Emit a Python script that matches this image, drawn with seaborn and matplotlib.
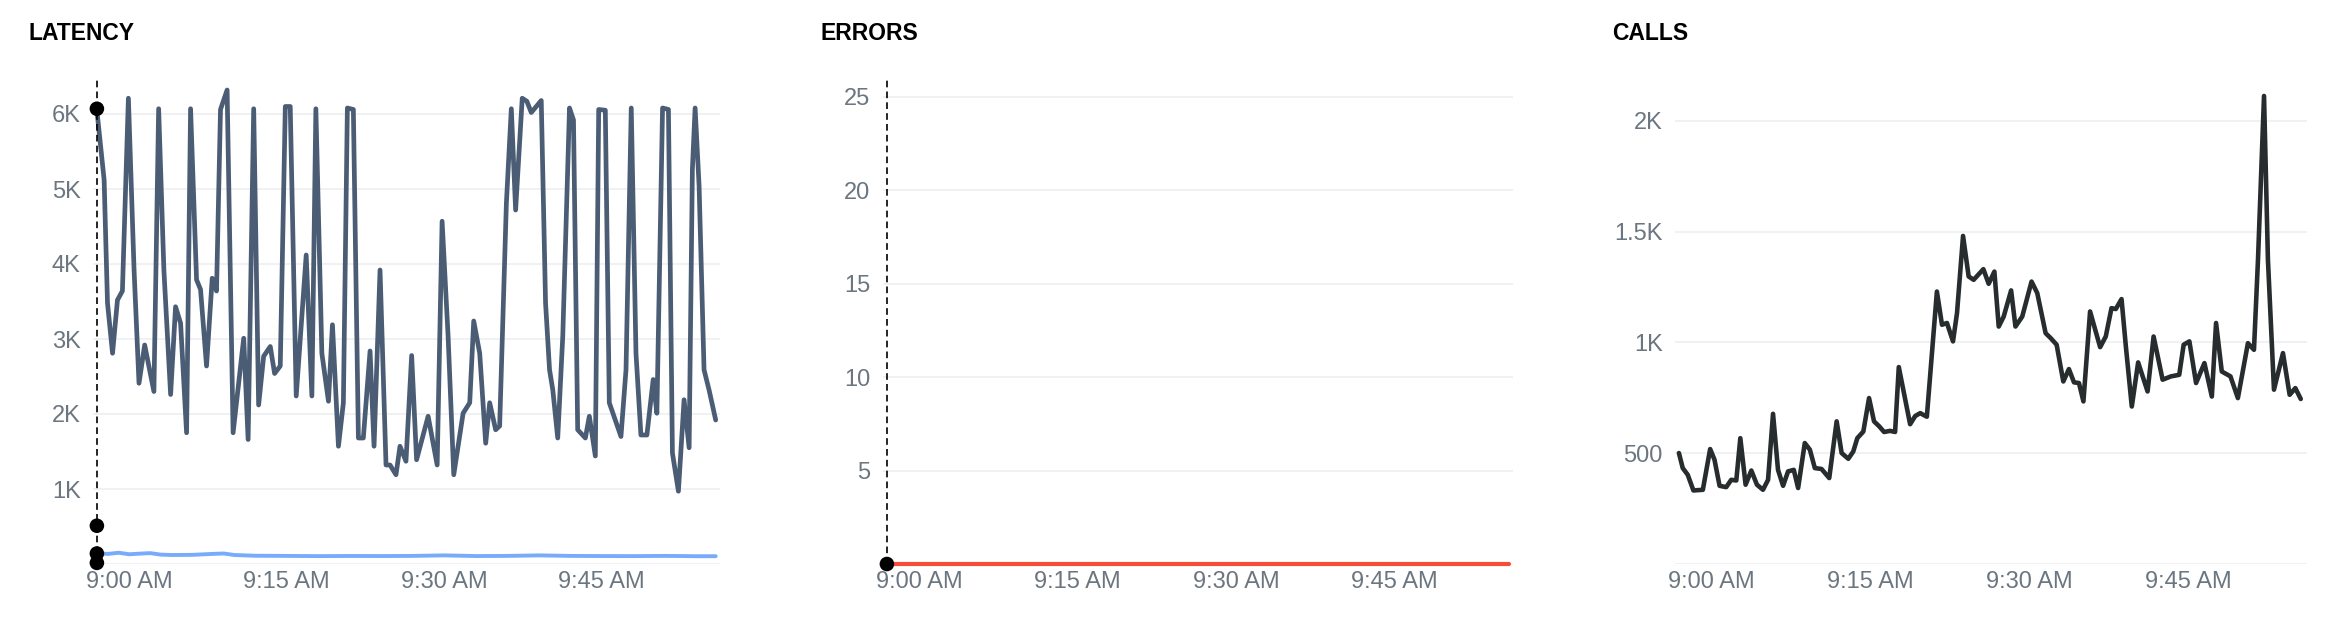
import matplotlib
matplotlib.use("Agg")
import matplotlib.pyplot as plt
import seaborn as sns

# All times are minutes relative to 9:00 AM
hover_minute = -3.08

# LATENCY panel (ms)
lat_minutes = [-3.08, -2.39, -2.07, -1.59, -1.12, -0.65, -0.08, 0.46, 0.93, 1.47,
               2.35, 2.80, 3.30, 3.94, 4.41, 4.89, 5.46, 5.84, 6.41, 6.79,
               7.36, 7.90, 8.31, 8.69, 9.32, 9.89, 10.90, 11.32, 11.85, 12.32,
               12.80, 13.43, 13.84, 14.38, 14.86, 15.33, 15.90, 16.85, 17.39, 17.77,
               18.34, 18.97, 19.35, 19.92, 20.39, 20.77, 21.34, 21.82, 22.29, 22.93,
               23.31, 23.88, 24.45, 24.83, 25.40, 25.78, 26.35, 26.89, 27.36, 28.46,
               29.32, 29.79, 30.36, 30.90, 31.79, 32.42, 32.80, 33.37, 33.94, 34.32,
               34.89, 35.27, 35.91, 36.38, 36.79, 37.42, 37.86, 38.28, 39.23, 39.64,
               40.02, 40.33, 40.80, 41.28, 41.92, 42.30, 42.70, 43.43, 43.81, 44.38,
               44.70, 45.33, 45.71, 46.82, 47.30, 47.80, 48.25, 48.72, 49.29, 49.89,
               50.24, 50.78, 51.34, 51.72, 52.29, 52.83, 53.31, 53.62, 53.88, 54.26,
               54.73, 55.21, 55.84]
lat_p99 = [6050, 5120, 3480, 2810, 3520, 3640, 6210, 3920, 2410, 2920,
           2300, 6070, 3920, 2260, 3430, 3210, 1750, 6070, 3790, 3660,
           2640, 3810, 3640, 6060, 6320, 1750, 3010, 1660, 6070, 2120,
           2770, 2900, 2540, 2640, 6100, 6100, 2240, 4120, 2240, 6070,
           2810, 2170, 3190, 1570, 2150, 6080, 6060, 1680, 1680, 2840,
           1570, 3920, 1320, 1320, 1190, 1570, 1370, 2780, 1390, 1970,
           1320, 4570, 3040, 1190, 2010, 2150, 3240, 2810, 1610, 2150,
           1790, 1840, 4810, 6070, 4720, 6210, 6170, 6020, 6180, 3480,
           2590, 2320, 1680, 3040, 6080, 5920, 1790, 1680, 1970, 1440,
           6060, 6050, 2150, 1700, 2590, 6080, 2810, 1720, 1720, 2460,
           2010, 6080, 6060, 1480, 970, 2190, 1550, 5260, 6080, 5040,
           2590, 2320, 1920]
lat_avg_minutes = [-3.08, -2, -1, 0, 1, 2, 3, 4, 6, 8, 9, 10, 12, 15, 18, 21, 24,
                   27, 30, 33, 36, 39, 42, 45, 48, 51, 54, 55.84]
lat_avg = [140, 135, 150, 130, 138, 145, 125, 120, 122, 135, 140, 120, 110, 108,
           105, 107, 106, 108, 115, 106, 108, 115, 108, 106, 105, 108, 104, 104]
lat_hover = [6070, 510, 140, 15]

# ERRORS panel
err_minutes = [-3.08, 55.84]
err_counts = [0, 0]
err_hover = [0]

# CALLS panel
calls_minutes = [-3.08, -2.72, -2.25, -1.71, -0.82, -0.13, 0.28, 0.76, 1.39, 1.86,
                 2.34, 2.72, 3.22, 3.76, 4.29, 4.86, 5.34, 5.81, 6.28, 6.76,
                 7.23, 7.77, 8.18, 8.81, 9.29, 9.76, 10.39, 11.12, 11.82, 12.29,
                 12.92, 13.39, 13.77, 14.34, 14.88, 15.35, 15.85, 16.30, 16.87, 17.34,
                 17.69, 18.76, 19.24, 19.71, 20.34, 21.29, 21.77, 22.24, 22.81, 23.19,
                 23.76, 24.29, 24.76, 25.68, 26.18, 26.72, 27.13, 27.60, 28.30, 28.71,
                 29.35, 30.23, 30.77, 31.56, 32.03, 32.60, 33.23, 33.76, 34.24, 34.71,
                 35.13, 35.76, 36.29, 36.71, 37.24, 37.78, 38.19, 38.73, 39.14, 39.70,
                 40.30, 41.19, 41.76, 42.61, 43.40, 44.18, 44.60, 45.14, 45.77, 46.56,
                 47.26, 47.66, 48.20, 49.02, 49.72, 50.67, 51.24, 51.62, 52.19, 52.56,
                 53.13, 53.98, 54.61, 55.15, 55.66]
calls_counts = [501, 433, 403, 332, 335, 519, 471, 353, 347, 380,
                377, 568, 358, 422, 358, 335, 380, 678, 425, 353,
                418, 425, 343, 546, 516, 433, 429, 388, 644, 501,
                475, 508, 568, 598, 749, 644, 621, 596, 601, 596,
                889, 631, 668, 681, 665, 1230, 1080, 1088, 1005, 1133,
                1481, 1298, 1283, 1331, 1265, 1320, 1072, 1117, 1235, 1072,
                1117, 1275, 1223, 1042, 1020, 990, 824, 880, 820, 817,
                734, 1140, 1050, 979, 1027, 1155, 1151, 1196, 982, 711,
                910, 779, 1027, 832, 847, 854, 990, 1005, 817, 907,
                756, 1088, 869, 847, 749, 997, 967, 1373, 2113, 1373,
                787, 952, 764, 794, 745]

tick_minutes = [0, 15, 30, 45]
tick_labels = ["9:00 AM", "9:15 AM", "9:30 AM", "9:45 AM"]

sns.set_style("white")
plt.rcParams["font.family"] = ["Liberation Sans", "DejaVu Sans"]

W, H = 2330, 634
fig = plt.figure(figsize=(W / 100, H / 100), dpi=100)


def make_axes(left_px, right_px, top_px=78, bottom_px=564):
    return fig.add_axes([left_px / W, 1 - bottom_px / H,
                         (right_px - left_px) / W, (bottom_px - top_px) / H])


def style(ax, yticks, ylabels, ymax):
    ax.set_xlim(-3.45, 56.25)
    ax.set_ylim(0, ymax)
    ax.set_xticks(tick_minutes)
    ax.set_xticklabels(tick_labels)
    ax.set_yticks(yticks)
    ax.set_yticklabels(ylabels)
    ax.set_xlabel("")
    ax.set_ylabel("")
    sns.despine(ax=ax, left=True, bottom=True)
    ax.yaxis.grid(True, color="#eff0f1", linewidth=1.3)
    ax.xaxis.grid(False)
    ax.set_axisbelow(True)
    ax.tick_params(axis="both", length=0, labelsize=17, colors="#6c7680")
    ax.tick_params(axis="y", pad=9)
    ax.tick_params(axis="x", pad=5)
    for ln in ax.lines:
        ln.set_clip_on(False)
        ln.set_solid_joinstyle("round")
        ln.set_solid_capstyle("round")


# Latency
ax1 = make_axes(93, 720)
sns.lineplot(x=lat_avg_minutes, y=lat_avg, ax=ax1, color="#78acfa", linewidth=2.8, estimator=None)
sns.lineplot(x=lat_minutes, y=lat_p99, ax=ax1, color="#4b5d74", linewidth=3.4, estimator=None)
ax1.axvline(hover_minute, color="black", linestyle=(0, (4, 2.5)), linewidth=1.2)
sns.scatterplot(x=[hover_minute] * len(lat_hover), y=lat_hover, ax=ax1, color="black",
                s=110, edgecolor="none", zorder=5, clip_on=False)
style(ax1, [0, 1000, 2000, 3000, 4000, 5000, 6000],
      ["", "1K", "2K", "3K", "4K", "5K", "6K"], 6480)

# Errors
ax2 = make_axes(883, 1513)
sns.lineplot(x=err_minutes, y=err_counts, ax=ax2, color="#f44e38", linewidth=3.0, estimator=None)
ax2.axvline(hover_minute, color="black", linestyle=(0, (4, 2.5)), linewidth=1.2)
sns.scatterplot(x=[hover_minute], y=err_hover, ax=ax2, color="black",
                s=110, edgecolor="none", zorder=5, clip_on=False)
style(ax2, [0, 5, 10, 15, 20, 25], ["", "5", "10", "15", "20", "25"], 26)

# Calls
ax3 = make_axes(1675, 2307)
sns.lineplot(x=calls_minutes, y=calls_counts, ax=ax3, color="#272c2e", linewidth=3.3, estimator=None)
style(ax3, [0, 500, 1000, 1500, 2000], ["", "500", "1K", "1.5K", "2K"], 2194)

for x_px, title in [(29, "LATENCY"), (820, "ERRORS"), (1612, "CALLS")]:
    fig.text(x_px / W, 1 - 33 / H, title, fontsize=16.5, fontweight="bold",
             ha="left", va="center", color="black")

fig.savefig("out.png", dpi=100)
